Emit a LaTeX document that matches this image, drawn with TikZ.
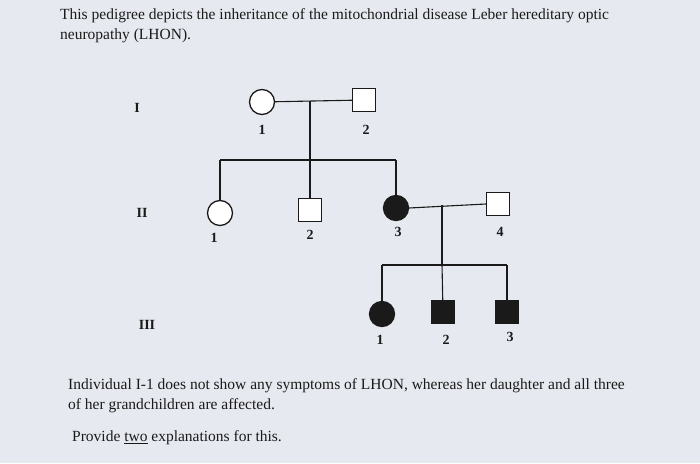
\documentclass[tikz,border=0pt]{standalone}
\usepackage{fontspec}
\setmainfont{Liberation Serif}
\definecolor{bg}{HTML}{E6E9EF}
\definecolor{ink}{HTML}{1A1A1A}
\begin{document}
\begin{tikzpicture}[x=1pt,y=-1pt,
  txt/.style={anchor=west,inner sep=0,font=\fontsize{15.5}{18}\selectfont,text=ink},
  lbl/.style={inner sep=0,font=\fontsize{14}{16}\selectfont\bfseries,text=ink},
  fem/.style={circle,draw=ink,line width=1.3pt,minimum size=25pt,inner sep=0,fill=white},
  mal/.style={rectangle,draw=ink,line width=1.3pt,minimum size=23pt,inner sep=0,fill=white},
  aff/.style={fill=ink},
  ln/.style={draw=ink,line width=1.1pt}]
\fill[bg] (0,0) rectangle (700,463);
\useasboundingbox (0,0) rectangle (700,463);
\node[txt] (t1) at (60,16) {This pedigree depicts the inheritance of the mitochondrial disease Leber hereditary optic};
\node[txt] (t2) at (60,36) {neuropathy (LHON).};
\node[txt] (t3) at (68,386) {Individual I-1 does not show any symptoms of LHON, whereas her daughter and all three};
\node[txt] (t4) at (68,406) {of her grandchildren are affected.};
\node[txt] (t5) at (72,438) {Provide \underline{two} explanations for this.};
\node[lbl] (gI) at (137,108) {I};
\node[lbl] (gII) at (142,213) {II};
\node[lbl] (gIII) at (147,325) {III};
% gen I
\node[fem] (i1) at (262,102) {};
\node[mal] (i2) at (364,100) {};
\coordinate (m1) at (310,101);
\coordinate (s1) at (310,160);
\draw[ln] (i1) -- (i2);
\draw[ln] (m1) -- (s1);
% gen II
\node[fem] (ii1) at (220,213) {};
\node[mal] (ii2) at (310,210) {};
\node[fem,aff] (ii3) at (396,208) {};
\node[mal] (ii4) at (498,204) {};
\coordinate (a1) at (220,160); \coordinate (a3) at (396,160);
\draw[ln] (a1) -- (a3);
\draw[ln] (a1) -- (ii1); \draw[ln] (s1) -- (ii2); \draw[ln] (a3) -- (ii3);
\draw[ln] (ii3.east) -- (ii4.west);
\coordinate (m2) at (442,205); \coordinate (s2) at (442,265);
\draw[ln] (m2) -- (s2);
% gen III
\node[fem,aff] (iii1) at (382,314) {};
\node[mal,aff] (iii2) at (443,312) {};
\node[mal,aff] (iii3) at (507,312) {};
\coordinate (b1) at (382,265); \coordinate (b3) at (507,265);
\draw[ln] (b1) -- (b3);
\draw[ln] (b1) -- (iii1); \draw[ln] (s2) -- (iii2); \draw[ln] (b3) -- (iii3);
% numbers
\foreach \n/\x/\y/\t in {n1/262/130/1,n2/366/130/2,n3/214/238/1,n4/310/235/2,n5/398/232/3,n6/500/232/4,n7/380/340/1,n8/446/340/2,n9/510/337/3}
  \node[lbl] (\n) at (\x,\y) {\t};
\end{tikzpicture}
\end{document}
